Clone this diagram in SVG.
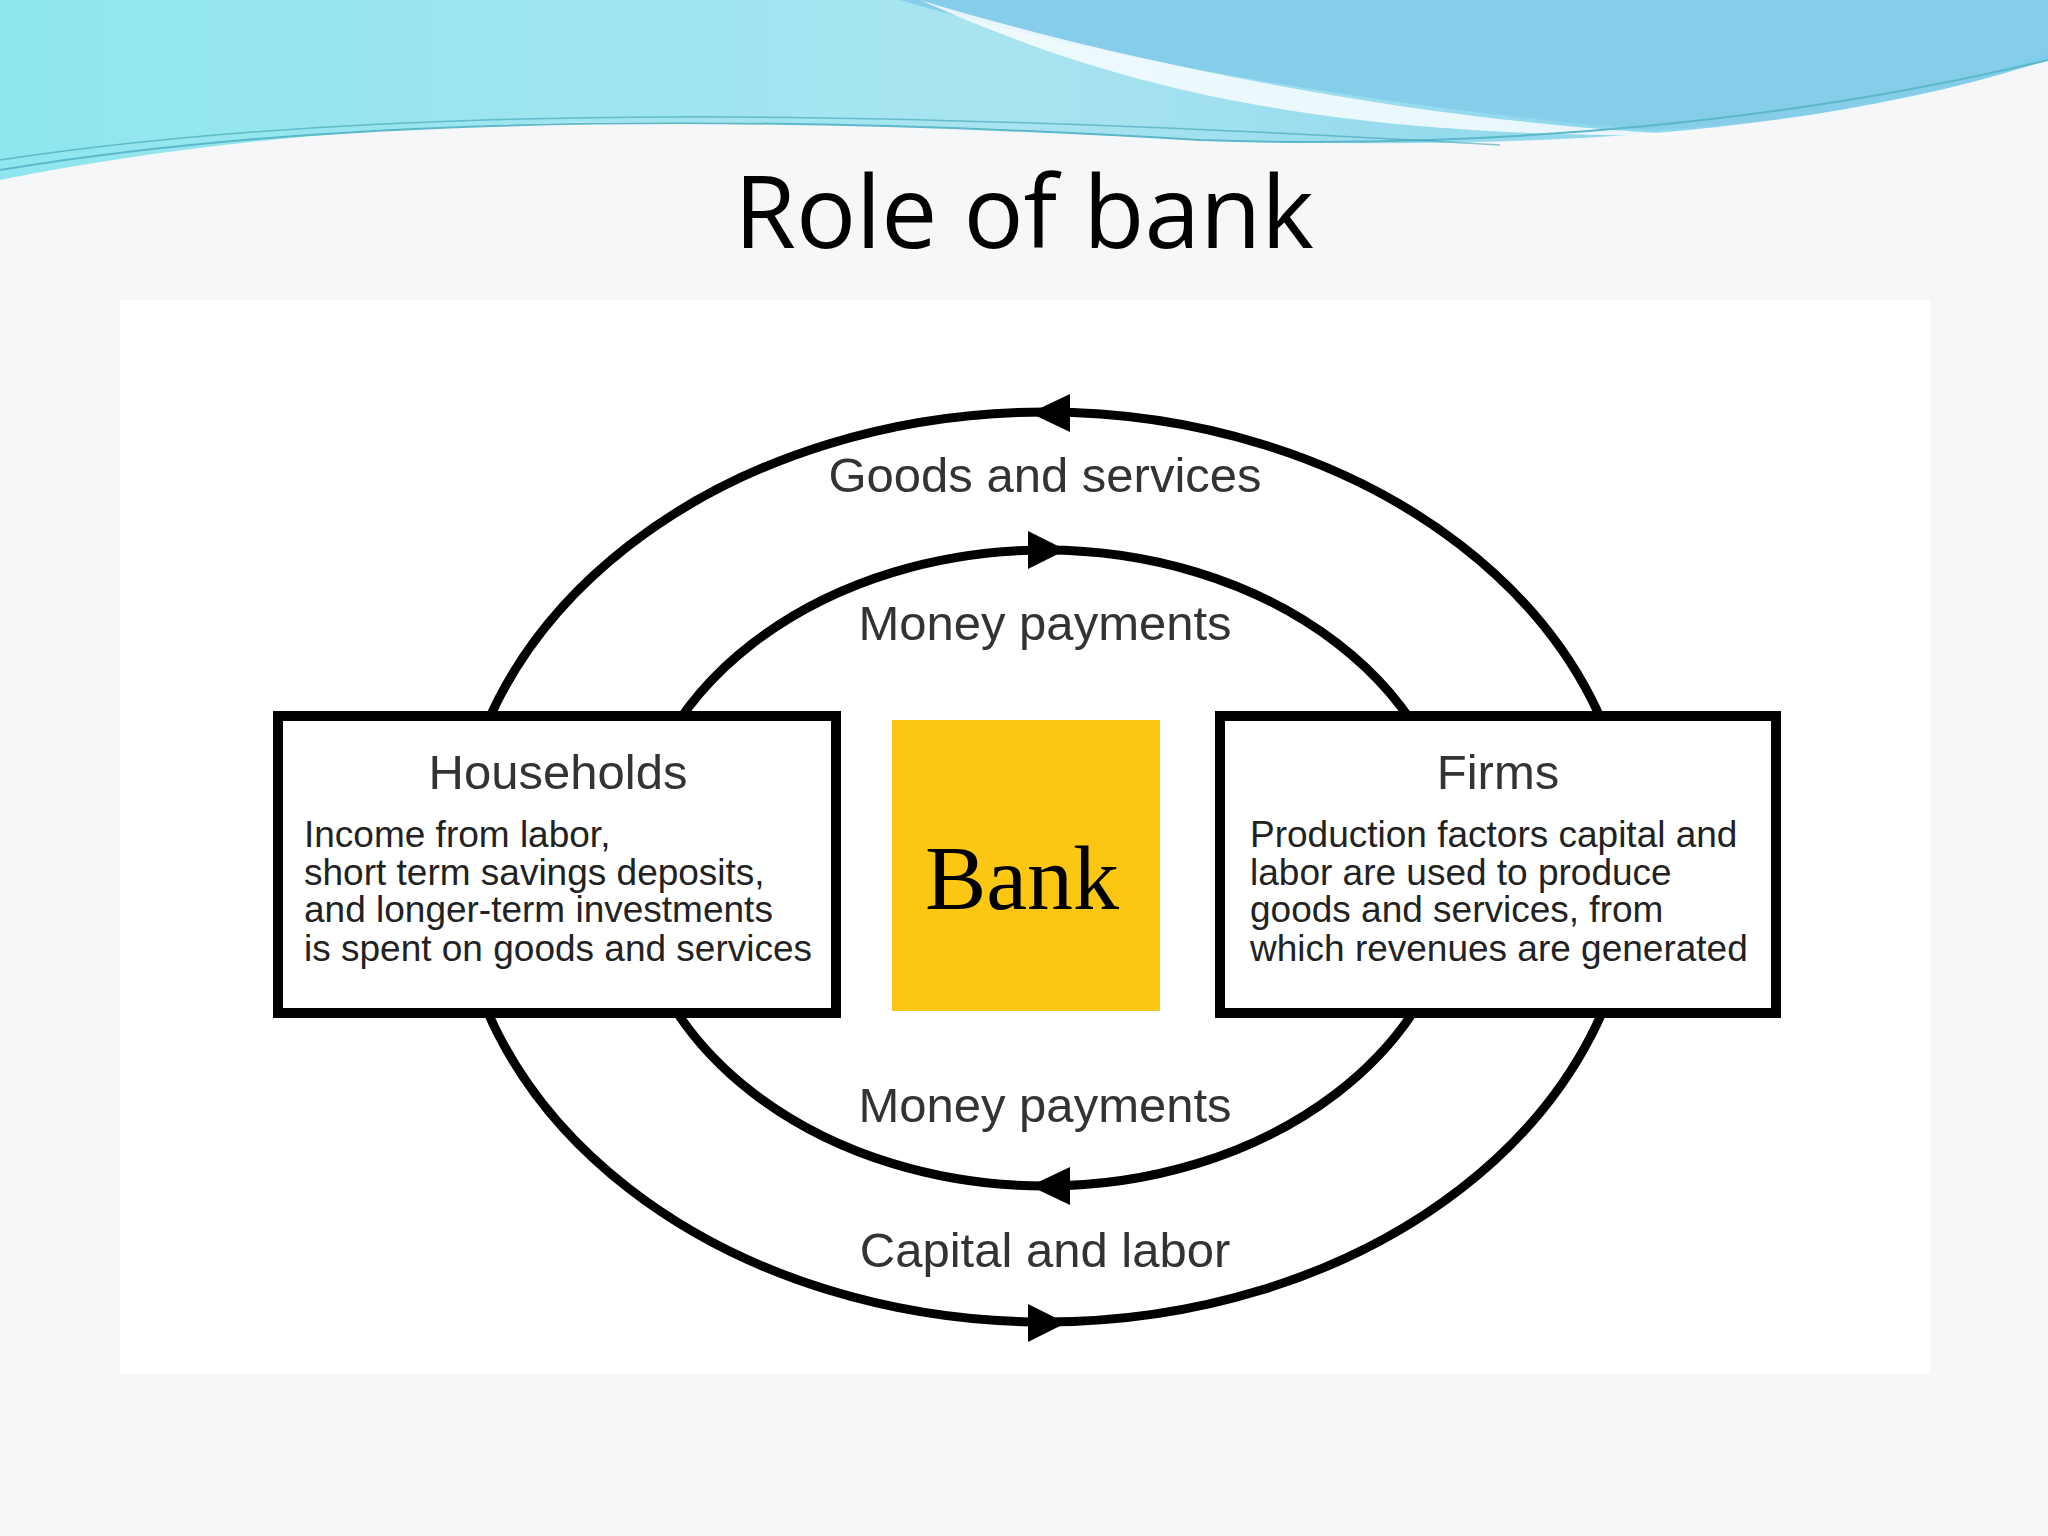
<svg xmlns="http://www.w3.org/2000/svg" width="2048" height="1536" viewBox="0 0 2048 1536">
<defs>
<linearGradient id="wave" x1="0" y1="0" x2="1" y2="0">
<stop offset="0" stop-color="#8fe6ee"/><stop offset="0.5" stop-color="#a8e4f0"/><stop offset="1" stop-color="#7ecdec"/>
</linearGradient>
<style>
.lbl{font-family:"Liberation Sans",Arial,sans-serif;fill:#333;font-size:49px;text-anchor:middle;dominant-baseline:central}
.body{font-family:"Liberation Sans",Arial,sans-serif;fill:#222;font-size:37px}
.box{fill:#fff;stroke:#000;stroke-width:10}
.ring{fill:none;stroke:#000;stroke-width:9}
</style>
</defs>
<rect width="2048" height="1536" fill="#f6f7f9"/>
<path d="M0 0H2048V60C1800 140 1500 150 1200 140C800 120 400 100 0 180Z" fill="url(#wave)"/>
<path d="M900 0C1100 60 1400 110 1650 130C1850 120 1980 80 2048 50V0Z" fill="#86cde9"/>
<path d="M920 0C1150 70 1450 125 1700 135C1300 140 1100 80 920 0Z" fill="#ffffff" opacity="0.8"/>
<path d="M0 170C300 120 700 110 1200 140C1500 150 1800 120 2048 60" fill="none" stroke="#5ab8c8" stroke-width="2"/>
<path d="M0 160C400 100 900 110 1500 145" fill="none" stroke="#3aa0b0" stroke-width="1.5" opacity="0.6"/>
<rect x="120" y="300" width="1810" height="1074" fill="#ffffff"/>
<text x="1024" y="248" font-family="'Open Sans',sans-serif" font-size="100" text-anchor="middle" fill="#000">Role of bank</text>
<g id="connectors">
<ellipse class="ring" cx="1045" cy="867" rx="588" ry="455"/>
<ellipse class="ring" cx="1045" cy="868" rx="413" ry="318"/>
<polygon points="1030,413 1070,394 1070,432"/>
<polygon points="1066,550 1028,531 1028,569"/>
<polygon points="1030,1186 1070,1167 1070,1205"/>
<polygon points="1066,1323 1028,1304 1028,1342"/>
<text class="lbl" x="1045" y="475">Goods and services</text>
<text class="lbl" x="1045" y="623">Money payments</text>
<text class="lbl" x="1045" y="1105">Money payments</text>
<text class="lbl" x="1045" y="1250">Capital and labor</text>
</g>
<g id="households">
<rect class="box" x="278" y="716" width="558" height="297"/>
<text class="lbl" x="558" y="772">Households</text>
<text class="body" x="304" y="847">Income from labor,</text>
<text class="body" x="304" y="885">short term savings deposits,</text>
<text class="body" x="304" y="922">and longer-term investments</text>
<text class="body" x="304" y="961">is spent on goods and services</text>
</g>
<g id="bank">
<rect x="892" y="720" width="268" height="291" fill="#fbc712"/>
<text x="1022" y="878" font-family="'Liberation Serif',serif" font-size="92" text-anchor="middle" dominant-baseline="central" fill="#000">Bank</text>
</g>
<g id="firms">
<rect class="box" x="1220" y="716" width="556" height="297"/>
<text class="lbl" x="1498" y="772">Firms</text>
<text class="body" x="1250" y="847">Production factors capital and</text>
<text class="body" x="1250" y="885">labor are used to produce</text>
<text class="body" x="1250" y="922">goods and services, from</text>
<text class="body" x="1250" y="961">which revenues are generated</text>
</g>
</svg>
